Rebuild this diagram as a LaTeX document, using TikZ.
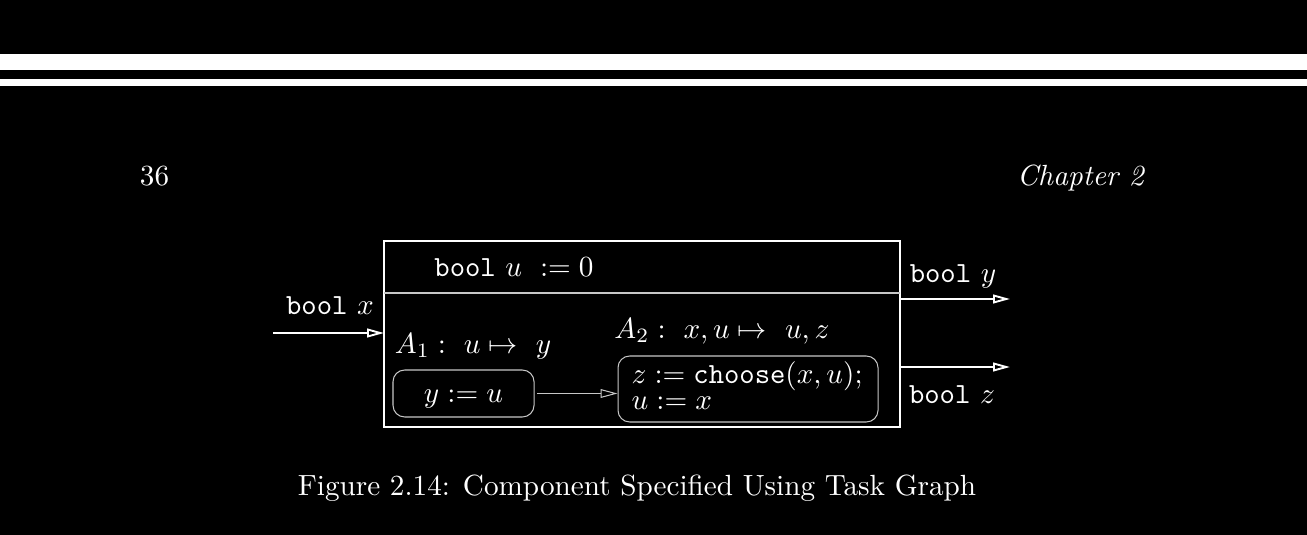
\documentclass[tikz,border=0pt]{standalone}
\usetikzlibrary{arrows.meta}
\begin{document}
\begin{tikzpicture}[x=0.3425pt,y=-0.3425pt,
  txt/.style={text=white,inner sep=0pt},
  thick outline/.style={draw=white,line width=0.65pt},
  thin outline/.style={draw=black!22!white,line width=0.35pt},
  bigarrow/.style={draw=white,line width=0.65pt,-{Triangle[open,length=5.8pt,width=3pt]}},
  smallarrow/.style={draw=black!22!white,line width=0.35pt,-{Triangle[open,length=5.8pt,width=3pt]}},
  taskbox/.style={thin outline,rounded corners=4pt,inner sep=0pt,text=white}]
\useasboundingbox (0,0) rectangle (1307,535);
\fill[black] (0,0) rectangle (1307,535);
% header bars
\fill[white] (0,54) rectangle (1307,70);
\fill[white] (0,79) rectangle (1307,86);
\node[txt,anchor=base] (pg) at (154.5,186) {36};
\node[txt,anchor=base] (ch) at (1081,186) {\textit{Chapter 2}};
% component box
\coordinate (bnw) at (384,241);
\coordinate (bse) at (900,427);
\draw[thick outline] (bnw) rectangle (bse);
\coordinate (dl) at (384,293);
\coordinate (dr) at (900,293);
\draw[thin outline] (dl) -- (dr);
\node[txt,anchor=base] (decl) at (514,276) {\texttt{bool} $u\ := 0$};
% input
\coordinate (xin) at (273,333);
\coordinate (xend) at (384,333);
\draw[bigarrow] (xin) -- (xend);
\node[txt,anchor=base] (xl) at (330,315) {\texttt{bool} $x$};
% outputs
\coordinate (ys) at (900,299);
\coordinate (ye) at (1010,299);
\draw[bigarrow] (ys) -- (ye);
\node[txt,anchor=base] (yl) at (953,283) {\texttt{bool} $y$};
\coordinate (zs) at (900,367);
\coordinate (ze) at (1010,367);
\draw[bigarrow] (zs) -- (ze);
\node[txt,anchor=base] (zl) at (952,403) {\texttt{bool} $z$};
% tasks
\node[txt,anchor=base] (a1) at (473,353) {$A_1:\ u\mapsto\ y$};
\node[taskbox,minimum width=48.3pt,minimum height=16.1pt] (t1) at (463.5,393.5) {};
\node[txt,anchor=base] (t1txt) at (463.5,402) {$y := u$};
\node[txt,anchor=base] (a2) at (722,338) {$A_2:\ x,u\mapsto\ u,z$};
\node[taskbox,minimum width=89.05pt,minimum height=22.6pt] (t2) at (748,389) {};
\node[txt,anchor=base west] (t2l1) at (631,383) {$z := \texttt{choose}(x,u);$};
\node[txt,anchor=base west] (t2l2) at (631,409) {$u := x$};
\draw[smallarrow] ([xshift=1pt]t1.east) -- (t1.east -| t2.west);
% caption
\node[txt,anchor=base] (cap) at (637,495) {Figure 2.14: Component Specified Using Task Graph};
\end{tikzpicture}
\end{document}
